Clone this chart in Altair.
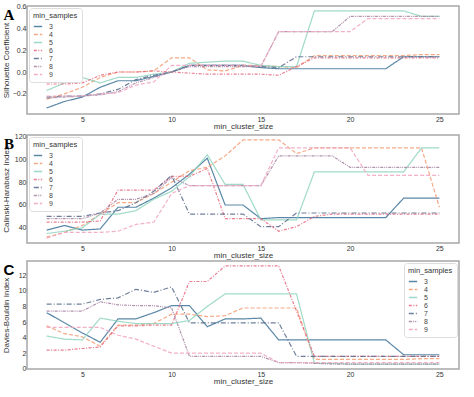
import altair as alt
import pandas as pd

x_vals = list(range(3, 26))
samples = ["3", "4", "5", "6", "7", "8", "9"]

colors = ["#3d7396", "#f29a72", "#8fd3c0", "#e8677c", "#56688a", "#a27f9f", "#f0a3bf"]
dashes = [[1, 0], [4, 2], [1, 0], [3, 1.5, 1, 1.5], [5, 2, 1, 2], [3, 1, 1, 1, 1, 1], [4, 2]]

# Panel A: Silhouette Coefficient
sil = {
    "3": [-0.33, -0.27, -0.23, -0.14, -0.08, -0.08, -0.04, 0.0, 0.06, 0.06, 0.06, 0.06, 0.04, 0.03, 0.03, 0.03, 0.03, 0.03, 0.03, 0.03, 0.14, 0.14, 0.14],
    "4": [-0.25, -0.2, -0.14, -0.05, 0.0, 0.0, 0.01, 0.13, 0.13, 0.02, 0.01, 0.06, 0.06, 0.05, 0.04, 0.15, 0.15, 0.15, 0.15, 0.15, 0.15, 0.16, 0.16],
    "5": [-0.17, -0.1, -0.05, -0.1, -0.05, -0.05, -0.02, 0.0, 0.08, 0.09, 0.1, 0.1, 0.06, 0.05, 0.05, 0.56, 0.56, 0.56, 0.56, 0.56, 0.56, 0.51, 0.51],
    "6": [-0.11, -0.11, -0.1, -0.03, 0.0, 0.0, 0.01, 0.0, -0.01, -0.02, -0.02, -0.02, -0.02, -0.03, 0.05, 0.13, 0.13, 0.13, 0.13, 0.13, 0.13, 0.13, 0.13],
    "7": [-0.23, -0.22, -0.22, -0.2, -0.16, -0.07, -0.03, 0.0, 0.06, 0.06, 0.06, 0.06, 0.05, 0.04, 0.14, 0.14, 0.14, 0.14, 0.14, 0.14, 0.14, 0.14, 0.14],
    "8": [-0.24, -0.23, -0.22, -0.21, -0.18, -0.1, -0.05, 0.0, 0.05, 0.05, 0.05, 0.05, 0.05, 0.37, 0.37, 0.37, 0.37, 0.51, 0.51, 0.51, 0.51, 0.51, 0.51],
    "9": [-0.22, -0.22, -0.22, -0.2, -0.19, -0.12, -0.09, 0.06, 0.06, 0.06, 0.06, 0.06, 0.05, 0.37, 0.37, 0.37, 0.37, 0.37, 0.49, 0.49, 0.49, 0.49, 0.49],
}

# Panel B: Calinski-Harabasz Index
chi = {
    "3": [38, 42, 38, 39, 58, 58, 66, 75, 87, 101, 60, 60, 48, 49, 49, 49, 49, 49, 49, 49, 66, 66, 66],
    "4": [32, 36, 42, 52, 62, 62, 70, 80, 90, 93, 103, 117, 117, 117, 105, 110, 110, 110, 110, 110, 110, 110, 58],
    "5": [35, 37, 40, 52, 52, 55, 65, 72, 85, 104, 78, 78, 47, 47, 47, 89, 89, 89, 89, 89, 89, 110, 110],
    "6": [45, 45, 45, 46, 73, 73, 73, 85, 85, 92, 48, 48, 48, 37, 41, 50, 52, 52, 52, 52, 52, 52, 52],
    "7": [50, 50, 50, 53, 55, 62, 72, 86, 52, 52, 52, 52, 41, 41, 53, 53, 53, 53, 53, 53, 53, 53, 53],
    "8": [48, 48, 48, 53, 65, 65, 70, 84, 77, 77, 77, 77, 77, 103, 103, 103, 103, 93, 93, 93, 93, 93, 93],
    "9": [31, 36, 36, 36, 37, 43, 45, 70, 77, 77, 77, 77, 77, 110, 110, 110, 110, 110, 86, 86, 86, 86, 86],
}

# Panel C: Davies-Bouldin Index
dbi = {
    "3": [7.2, 5.9, 4.6, 3.4, 6.4, 6.4, 7.2, 8.1, 8.1, 5.4, 6.4, 6.4, 6.5, 3.7, 3.7, 3.7, 3.7, 3.7, 3.7, 3.7, 1.8, 1.8, 1.8],
    "4": [5.5, 4.5, 4.1, 2.9, 5.6, 5.6, 5.8, 7.0, 7.0, 6.7, 6.8, 7.8, 7.8, 7.8, 7.8, 1.2, 1.2, 1.2, 1.2, 1.2, 1.2, 1.3, 1.3],
    "5": [4.2, 3.8, 3.7, 6.5, 6.1, 5.8, 5.8, 5.8, 6.2, 8.0, 9.6, 9.6, 9.6, 9.6, 9.6, 0.7, 0.7, 0.6, 0.6, 0.6, 0.6, 0.6, 0.6],
    "6": [2.4, 2.4, 2.6, 2.8, 5.5, 5.5, 5.6, 5.6, 11.2, 11.2, 13.2, 13.2, 13.2, 13.2, 7.4, 1.6, 1.6, 1.6, 1.6, 1.6, 1.6, 1.6, 1.6],
    "7": [8.3, 8.3, 8.3, 8.9, 9.1, 10.2, 9.8, 10.5, 5.9, 5.9, 5.9, 5.9, 5.9, 5.9, 1.6, 1.6, 1.6, 1.6, 1.6, 1.6, 1.6, 1.6, 1.6],
    "8": [7.4, 7.4, 7.4, 8.6, 8.2, 8.1, 8.1, 7.8, 1.6, 1.6, 1.6, 1.6, 1.6, 0.8, 0.8, 0.7, 0.6, 0.6, 0.6, 0.6, 0.6, 0.6, 0.6],
    "9": [5.3, 5.3, 5.3, 5.3, 4.3, 3.8, 2.9, 2.0, 2.0, 2.0, 2.0, 2.0, 2.0, 0.8, 0.8, 0.8, 0.8, 0.8, 0.8, 0.8, 0.8, 0.8, 0.8],
}


def long_df(d):
    rows = []
    for s in samples:
        for xv, yv in zip(x_vals, d[s]):
            rows.append({"min_cluster_size": xv, "value": yv, "min_samples": s})
    return pd.DataFrame(rows)


def panel(d, ytitle, ydomain, yticks, yfmt, letter, letter_font, legend_orient):
    legend = alt.Legend(
        title="min_samples", orient=legend_orient, offset=2,
        fillColor="white", strokeColor="#dddddd", padding=4, cornerRadius=3,
        titleFontSize=7.5, titleFontWeight="normal", titleColor="#333333",
        titleFont="Liberation Sans", labelFont="Liberation Sans",
        labelFontSize=7, labelColor="#444444", symbolType="stroke",
        symbolSize=70, symbolStrokeWidth=1.3, rowPadding=0, titlePadding=2,
        labelOffset=6,
    )
    base = alt.Chart(long_df(d)).mark_line(strokeWidth=1.2, opacity=0.85).encode(
        x=alt.X("min_cluster_size:Q",
                scale=alt.Scale(domain=[1.9, 26.1], nice=False, zero=False),
                axis=alt.Axis(values=[5, 10, 15, 20, 25], title="min_cluster_size")),
        y=alt.Y("value:Q",
                scale=alt.Scale(domain=ydomain, nice=False, zero=False),
                axis=alt.Axis(values=yticks, format=yfmt, title=ytitle,
                              minExtent=15, maxExtent=15)),
        color=alt.Color("min_samples:N",
                        scale=alt.Scale(domain=samples, range=colors),
                        legend=legend),
        strokeDash=alt.StrokeDash("min_samples:N",
                                  scale=alt.Scale(domain=samples, range=dashes),
                                  legend=legend),
    )
    lab = alt.Chart(pd.DataFrame({"t": [letter]})).mark_text(
        font=letter_font, fontSize=15, fontWeight="bold", color="black",
        align="center", baseline="middle",
    ).encode(text="t:N", x=alt.value(-18), y=alt.value(9))
    return alt.layer(base, lab).properties(width=432, height=108)


a = panel(sil, "Silhouette Coefficient", [-0.385, 0.605], [-0.2, 0.0, 0.2, 0.4, 0.6], ".1f", "A", "Liberation Serif", "top-left")
b = panel(chi, "Calinski-Harabasz Index", [26.7, 121.3], [40, 60, 80, 100, 120], "d", "B", "Liberation Serif", "top-left")
c = panel(dbi, "Davies-Bouldin Index", [-0.03, 13.83], [0, 2, 4, 6, 8, 10, 12], "d", "C", "Liberation Sans", "top-right")

chart = alt.vconcat(a, b, c, spacing=0).properties(
    padding={"left": 1, "top": 1, "right": 10, "bottom": 1}
).configure_view(
    stroke="#a8a8a8", strokeWidth=1.5
).configure_axis(
    grid=False, domain=False, ticks=False,
    labelFont="Liberation Sans", titleFont="Liberation Sans",
    labelFontSize=7, titleFontSize=8, labelColor="#333333", titleColor="#333333",
    titleFontWeight="normal", labelPadding=1, titlePadding=0,
).configure_axisY(titlePadding=2)

chart.save("out.html", embed_options={"renderer": "svg", "actions": False})
